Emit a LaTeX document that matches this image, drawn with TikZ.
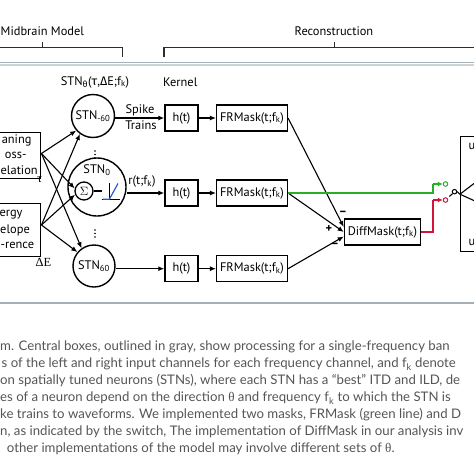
\documentclass[tikz,border=0pt]{standalone}
\usepackage{fontspec}
\setmainfont{PT Sans}
\newfontfamily\grk{Fira Sans}
\newfontfamily\sergr{Liberation Serif}
\newfontfamily\capfont{Lato}
\usetikzlibrary{arrows.meta}
\definecolor{frame}{RGB}{165,176,182}
\definecolor{framel}{RGB}{205,212,215}
\definecolor{brk}{RGB}{45,45,45}
\definecolor{grn}{RGB}{40,175,40}
\definecolor{rd}{RGB}{210,20,60}
\definecolor{blu}{RGB}{40,90,210}
\definecolor{capc}{RGB}{85,85,85}
\begin{document}
\begin{tikzpicture}[x=1pt,y=-1pt,font=\fontsize{12.4}{14}\selectfont,
  box/.style={draw,line width=1.5pt,minimum height=26pt,inner sep=1pt},
  stn/.style={draw,circle,line width=1.4pt,inner sep=0pt},
  arr/.style={-{Latex[length=6pt,width=5pt]},line width=1.1pt},
  lbl/.style={inner sep=0pt},
  capt/.style={anchor=base west,inner sep=0pt,text=capc,font=\capfont\fontsize{13.2}{15}\selectfont},
  brack/.style={draw=brk,line width=1.5pt}]
\useasboundingbox (0,0) rectangle (474,474);
\clip (0,0) rectangle (474,474);
% top labels and brackets
\node[lbl,anchor=west] (mm) at (0.5,31.5) {Midbrain Model};
\node[lbl] (rc) at (334,31.5) {Reconstruction};
\draw[brack] (0,47.7) -- (122.3,47.7) -- (122.3,57.3);
\draw[brack] (42.3,42.3) -- (42.3,47.7);
\draw[brack] (164,57.3) -- (164,47.7) -- (474,47.7);
\draw[brack] (334.3,42.3) -- (334.3,47.7);
% gray frame
\draw[frame,line width=1pt] (0,62.5) -- (474,62.5);
\draw[framel,line width=2.5pt] (0,65.2) -- (474,65.2);
\draw[frame,line width=2pt] (0,302.8) -- (474,302.8);
% headings
\node[lbl] (stnt) at (95,82) {STN{\grk\textsubscript{θ}}({\grk τ},{\grk Δ}E;f\textsubscript{k})};
\node[lbl,anchor=west] (kern) at (163,82) {Kernel};
% left boxes
\node[box,minimum width=60pt,minimum height=45.6pt] (box1) at (10.7,155.5) {};
\node[box,minimum width=60pt,minimum height=53.4pt] (box2) at (10.7,230) {};
\node[lbl,anchor=east] (b1a) at (31.7,140) {aning};
\node[lbl,anchor=east] (b1b) at (26.7,155.7) {oss-};
\node[lbl,anchor=west] (b1c) at (0.5,170.5) {elation};
\node[lbl,anchor=east] (b2a) at (22.7,215) {ergy};
\node[lbl,anchor=east] (b2b) at (30,230) {elope};
\node[lbl,anchor=west] (b2c) at (0.5,245) {-rence};
\node[lbl] (tau) at (39.5,180) {\sergr τ};
\node[lbl] (dE) at (43.5,262) {\sergr ΔE};
% STN circles
\node[stn,minimum size=43pt] (stnm) at (93,116) {STN\textsubscript{-60}};
\node[stn,minimum size=58pt] (stn0) at (97,187) {};
\node[stn,minimum size=42pt] (stnp) at (94,266) {STN\textsubscript{60}};
\node[lbl] (stn0t) at (97,170) {STN\textsubscript{0}};
\node[draw,circle,line width=1.3pt,minimum size=18pt,inner sep=0pt] (sig) at (84,191) {$\Sigma$};
\draw[line width=1.2pt] (sig.east) -- (101.7,191);
\draw[line width=1.1pt] (101.7,199.3) -- (120,199.3);
\draw[line width=1.1pt] (109.3,183.3) -- (109.3,200);
\draw[blu,line width=1.2pt] (103,199.3) -- (109.3,199.3) -- (118,183.5);
% dots
\foreach \yy in {151,154.5,158} \fill (95,\yy) circle (0.9);
\foreach \yy in {230,233.5,237} \fill (95,\yy) circle (0.9);
% input arrows
\draw[arr] ([yshift=2pt]box1.east) -- (stnm.221);
\draw[arr] ([yshift=2pt]box1.east) -- (sig.165);
\draw[arr] ([yshift=2pt]box1.east) -- (stnp.125);
\draw[arr] ([yshift=5pt]box2.east) -- (stnm.234);
\draw[arr] ([yshift=5pt]box2.east) -- (sig.202);
\draw[arr] ([yshift=5pt]box2.east) -- (stnp.140);
% kernel boxes
\node[box,minimum width=33pt] (h1) at (181.5,118) {h(t)};
\node[box,minimum width=33pt] (h2) at (181.5,193) {h(t)};
\node[box,minimum width=33pt] (h3) at (181.5,268.7) {h(t)};
\node[box,minimum width=70.6pt] (f1) at (252,118) {FRMask(t;f\textsubscript{k})};
\node[box,minimum width=70.6pt] (f2) at (252,193) {FRMask(t;f\textsubscript{k})};
\node[box,minimum width=70.6pt] (f3) at (252,268.7) {FRMask(t;f\textsubscript{k})};
\draw[arr] (stnm.east |- h1.west) -- (h1.west);
\draw[arr] (stn0.east |- h2.west) -- (h2.west);
\draw[arr] (stnp.east |- h3.west) -- (h3.west);
\node[lbl] (spk) at (140,110) {Spike};
\node[lbl] (trn) at (141,125.5) {Trains};
\node[lbl] (rt) at (142,181.5) {r(t;f\textsubscript{k})};
\draw[arr] (h1) -- (f1);
\draw[arr] (h2) -- (f2);
\draw[arr] (h3) -- (f3);
% diffmask
\node[box,minimum width=76pt] (dm) at (382.5,232) {DiffMask(t;f\textsubscript{k})};
\draw[arr] (f1.east) -- ([yshift=5pt]dm.west);
\draw[arr] (f2.east) -- (dm.west);
\draw[arr] (f3.east) -- ([yshift=-4.5pt]dm.west);
\node[lbl] (s1) at (343,213) {\textbf{–}};
\node[lbl] (s2) at (329,229.5) {\textbf{+}};
\node[lbl] (s3) at (335,245) {\textbf{–}};
% switch
\node[draw=grn,circle,line width=1pt,minimum size=4.5pt,inner sep=0pt] (cg) at (445.5,184) {};
\node[draw=rd,circle,line width=1pt,minimum size=4.5pt,inner sep=0pt] (cr) at (445.5,200) {};
\node[draw,circle,line width=1pt,minimum size=4.5pt,inner sep=0pt] (cp) at (454.5,191.7) {};
\coordinate (gv) at (433,193);
\coordinate (gt) at (433,184);
\coordinate (rv) at (433,232);
\coordinate (rtp) at (433,200);
\draw[grn,line width=1.4pt] (f2.east) -- (gv) -- (gt);
\draw[grn,-{Latex[length=5pt,width=5pt]},line width=1.4pt] (gt) -- (cg.west);
\draw[rd,line width=1.4pt] (dm.east) -- (rv) -- (rtp);
\draw[rd,-{Latex[length=5pt,width=5pt]},line width=1.4pt] (rtp) -- (cr.west);
\draw[line width=1.1pt] (cp.225) -- (449.3,196.5);
\node[draw,line width=1.5pt,minimum width=40pt,minimum height=115pt,inner sep=0pt] (out) at (480.7,194.2) {};
\draw[line width=1.1pt] (cp.east) -- (out.west);
\draw[line width=1.1pt] (out.west) -- (476,182);
\draw[line width=1.1pt] (out.west) -- (476,201.5);
\node[lbl,anchor=west] (u1) at (468.5,146) {u};
\node[lbl,anchor=west] (u2) at (468.5,242) {u};
% caption
\node[capt] (c1) at (0,350.5) {m. Central boxes, outlined in gray, show processing for a single-frequency ban};
\node[capt] (c2) at (1.5,367.5) {s of the left and right input channels for each frequency channel, and f\textsubscript{k} denote};
\node[capt] (c3) at (0,384.5) {on spatially tuned neurons (STNs), where each STN has a “best” ITD and ILD, de};
\node[capt] (c4) at (0,401.5) {es of a neuron depend on the direction {\sergr θ} and frequency f\textsubscript{k} to which the STN is};
\node[capt] (c5) at (0,418.5) {ke trains to waveforms. We implemented two masks, FRMask (green line) and D};
\node[capt] (c6) at (0,435.5) {n, as indicated by the switch, The implementation of DiffMask in our analysis inv};
\node[capt] (c7) at (6.7,452.5) {other implementations of the model may involve different sets of {\sergr θ}.};
\end{tikzpicture}
\end{document}
